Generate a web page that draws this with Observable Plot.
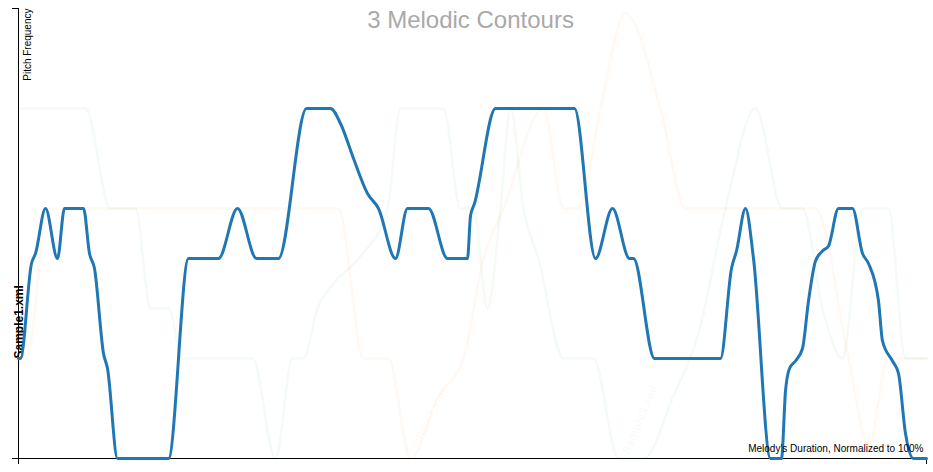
<!DOCTYPE html>
<html>
<head>
<meta charset="utf-8">
<script src="https://cdn.jsdelivr.net/npm/d3@7"></script>
<script src="https://cdn.jsdelivr.net/npm/@observablehq/plot@0.6"></script>
<style>
  html, body { margin: 0; padding: 0; background: #fff; }
  svg { display: block; }
</style>
</head>
<body>
<div id="chart"></div>
<script>
// ---- data ----
const title = "3 Melodic Contours";
const yLabel = "Pitch Frequency";
const xLabel = "Melody's Duration, Normalized to 100%";
const melodies = ["Sample1.xml", "Sample2.xml", "Sample3.xml"];
const colors = ["#1f77b4", "#ff7f0e", "#2ca02c"];

// time (ticks, melody length = last value) and pitch (semitones above lowest note)
const sample1Time  = [0,2,13,17,27,39,46,65,71,76,85,89,99,150,170,200,219,238,260,288,312,322,335,349,360,377,389,410,429,449,452,456,477,556,577,594,611,615,636,702,713,718,727,735,752,763,767,771,777,784,790,797,804,810,820,834,844,850,860,864,874,880,887,895,908];
const sample1Pitch = [4,4,7.8,8.2,10,8,10,10,8.2,7.6,4.2,3.6,0,0,8,8,10,8,8,14,14,13.4,12,10.6,10,8,10,10,8,8,9.7,10.2,14,14,8,10,8,8,4,4,7.6,8.3,10,8,0,0,2.7,3.6,3.9,4.4,6.3,7.9,8.3,8.5,10,10,8.2,7.8,6.3,4.7,3.9,3.4,1,0,0];

const sample2Time  = [0,8,30,320,345,370,392,420,445,465,485,525,545,560,582,607,642,667,797,830,850,870,908];
const sample2Pitch = [4,4,10,10,4,4,0,2.5,4,8,10,14,10,10,14,17.8,14,10,10,4,0.5,4,4];

const sample3Time  = [0,67,92,117,132,150,164,234,257,274,285,299,315,340,369,382,425,442,455,469,482,492,505,520,545,575,600,625,655,680,707,737,764,784,804,824,844,854,870,887,908];
const sample3Pitch = [14,14,10,10,6,6,4,4,0,4,4,6,7,8,10,14,14,10,10,6,10,14,10,8,4,4,0,0,2.5,5,10,14,10,10,6,4,10,10,10,4,4];

// label anchor points (time, pitch)
const labelTime  = [0, 390, 607];
const labelPitch = [4, 0.2, 0.2];

const pitchDomain = [0, 18];

// ---- build table ----
const series = [
  {name: melodies[0], t: sample1Time, p: sample1Pitch},
  {name: melodies[1], t: sample2Time, p: sample2Pitch},
  {name: melodies[2], t: sample3Time, p: sample3Pitch}
];
const rows = series.flatMap(s => {
  const total = s.t[s.t.length - 1];
  return s.t.map((t, j) => ({melody: s.name, pct: t / total * 100, pitch: s.p[j]}));
});
const labels = melodies.map((m, i) => ({
  melody: m,
  pct: labelTime[i] / series[i].t[series[i].t.length - 1] * 100,
  pitch: labelPitch[i]
}));

const labelRotate = {"Sample1.xml": -90, "Sample2.xml": -60, "Sample3.xml": -67};
const faint = 0.05;
const font = "'Liberation Sans', Arial, Helvetica, sans-serif";

const chart = Plot.plot({
  width: 933,
  height: 472,
  marginLeft: 18,
  marginRight: 7,
  marginTop: 8,
  marginBottom: 14,
  style: {fontFamily: font, background: "#fff", overflow: "visible", color: "#000"},
  x: {domain: [0, 100], ticks: [0, 100], tickSize: 6, tickFormat: () => "", label: null},
  y: {domain: pitchDomain, ticks: pitchDomain, tickSize: 6, tickFormat: () => "", label: null},
  color: {domain: melodies, range: colors},
  marks: [
    Plot.ruleX([0], {stroke: "#000"}),
    Plot.ruleY([0], {stroke: "#000"}),
    // faint contours
    Plot.line(rows.filter(d => d.melody !== melodies[0]), {
      x: "pct", y: "pitch", z: "melody", stroke: "melody",
      strokeWidth: 2.5, strokeOpacity: faint, curve: "monotone-x"
    }),
    Plot.text(labels.filter(d => d.melody !== melodies[0]), {
      x: "pct", y: "pitch", text: "melody", fill: "melody", fillOpacity: faint,
      rotate: d => labelRotate[d.melody], textAnchor: "start",
      fontSize: 12, fontWeight: "bold"
    }),
    Plot.text(labels.filter(d => d.melody === melodies[0]), {
      x: "pct", y: "pitch", text: "melody", fill: "#000",
      rotate: -90, textAnchor: "start", lineAnchor: "middle", dx: 1,
      fontSize: 12, fontWeight: "bold"
    }),
    // highlighted contour
    Plot.line(rows.filter(d => d.melody === melodies[0]), {
      x: "pct", y: "pitch", stroke: "melody",
      strokeWidth: 3, curve: "monotone-x"
    }),
    // title and axis labels
    Plot.text([title], {
      frameAnchor: "top", text: d => d, lineAnchor: "top", dy: 2, dx: -2,
      fontSize: 24, fill: "#a9a9a9"
    }),
    Plot.text([yLabel], {
      frameAnchor: "top-left", text: d => d, rotate: -90, textAnchor: "end",
      lineAnchor: "middle", dx: 9, dy: 0, fontSize: 10, fill: "#000"
    }),
    Plot.text([xLabel], {
      frameAnchor: "bottom-right", text: d => d, textAnchor: "end",
      lineAnchor: "middle", dx: -3, dy: -10, fontSize: 10, fill: "#000"
    })
  ]
});
document.getElementById("chart").append(chart);
</script>
</body>
</html>
